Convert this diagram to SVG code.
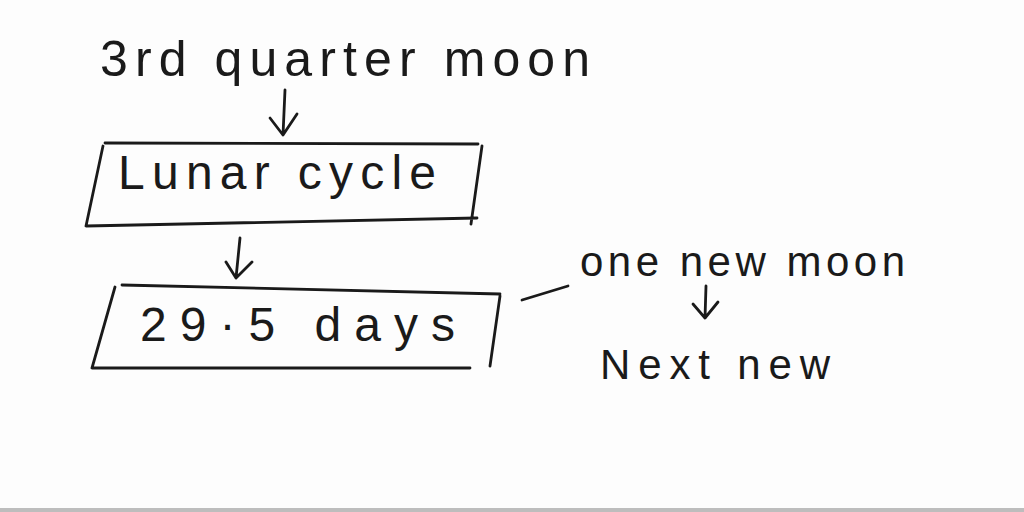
<svg xmlns="http://www.w3.org/2000/svg" width="1024" height="512" viewBox="0 0 1024 512">
<style>
.ink{fill:none;stroke:#1a1a1a;stroke-width:2.8;stroke-linecap:round;stroke-linejoin:round}
.t{font-family:"Liberation Sans",Arial,sans-serif;fill:#1a1a1a;font-weight:normal}
</style>
<rect width="1024" height="512" fill="#fdfdfd"/>
<rect x="0" y="508" width="1024" height="4" fill="#bdbdbd"/>
<g id="top-label">
<text class="t" x="100" y="76" font-size="50" textLength="490" lengthAdjust="spacing">3rd quarter moon</text>
</g>
<g id="lunar-cycle">
<path class="ink" d="M105,143 L478,144 M103,146 L86,226 L477,218 M482,146 L471,224"/>
<text class="t" x="118" y="189" font-size="48" textLength="318" lengthAdjust="spacing">Lunar cycle</text>
</g>
<g id="days">
<path class="ink" d="M122,285 L500,294 M115,287 L92,368 L470,368 M500,296 L490,366"/>
<text class="t" x="140" y="341" font-size="48" textLength="315" lengthAdjust="spacing">29·5 days</text>
</g>
<g id="one-new-moon">
<text class="t" x="580" y="276" font-size="42" textLength="325" lengthAdjust="spacing">one new moon</text>
</g>
<g id="next-new">
<text class="t" x="600" y="379" font-size="42" textLength="230" lengthAdjust="spacing">Next new</text>
</g>
<g id="connectors">
<path class="ink" d="M285,90 L283,135 M270,118 L283,135 L297,114"/>
<path class="ink" d="M240,238 L236,278 M226,262 L236,278 L252,262"/>
<path class="ink" d="M706,286 L705,318 M693,304 L705,318 L718,302"/>
<path class="ink" d="M522,300 L568,286"/>
</g>
</svg>
